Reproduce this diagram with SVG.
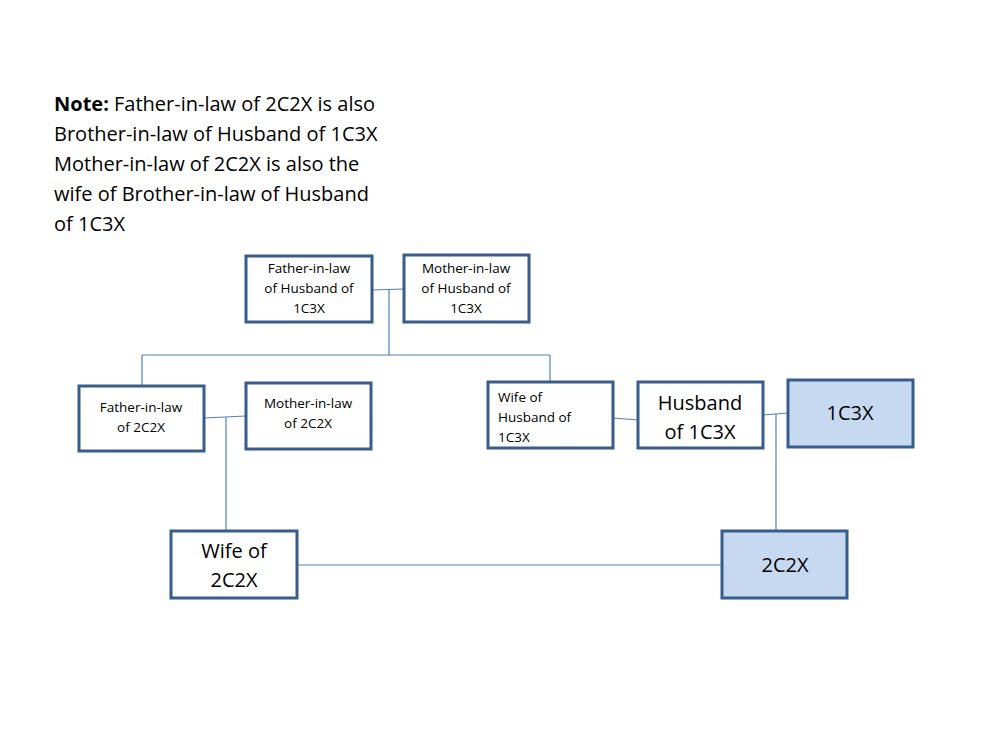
<svg xmlns="http://www.w3.org/2000/svg" width="992" height="741" viewBox="0 0 992 741">
<style>
.b{fill:#fff;stroke:#385d8a;stroke-width:3}
.h{fill:#c6d9f1;stroke:#385d8a;stroke-width:3}
.t{font-family:"Open Sans","Liberation Sans",sans-serif;fill:#000;text-anchor:middle}
.l{text-anchor:start}
.s{font-size:13.5px}.m{font-size:20px}
.n{font-family:"Open Sans","Liberation Sans",sans-serif;font-size:20px;fill:#000}
#c line{stroke:#4f81bd;stroke-width:1.2}
</style>
<rect width="992" height="741" fill="#fff"/>
<text class="n" x="54" y="111"><tspan font-weight="bold">Note:</tspan> Father-in-law of 2C2X is also</text>
<text class="n" x="54" y="141">Brother-in-law of Husband of 1C3X</text>
<text class="n" x="54" y="171">Mother-in-law of 2C2X is also the</text>
<text class="n" x="54" y="201">wife of Brother-in-law of Husband</text>
<text class="n" x="54" y="231">of 1C3X</text>
<g id="c">
<line x1="372" y1="290" x2="404" y2="289"/>
<line x1="389" y1="290" x2="389" y2="355"/>
<line x1="142" y1="355" x2="550" y2="355"/>
<line x1="142" y1="355" x2="142" y2="386"/>
<line x1="550" y1="355" x2="550" y2="382"/>
<line x1="204" y1="418" x2="246" y2="416"/>
<line x1="226" y1="417" x2="226" y2="531"/>
<line x1="613" y1="418" x2="638" y2="420"/>
<line x1="763" y1="415" x2="788" y2="413"/>
<line x1="776" y1="414" x2="776" y2="531"/>
<line x1="297" y1="565" x2="722" y2="565"/>
</g>
<g id="filh"><rect class="b" x="246" y="256" width="126" height="66"/><text class="t s" x="309" y="273">Father-in-law</text><text class="t s" x="309" y="293">of Husband of</text><text class="t s" x="309" y="313">1C3X</text></g>
<g id="milh"><rect class="b" x="404" y="255" width="125" height="67"/><text class="t s" x="466" y="273">Mother-in-law</text><text class="t s" x="466" y="293">of Husband of</text><text class="t s" x="466" y="313">1C3X</text></g>
<g id="fil2"><rect class="b" x="79" y="386" width="125" height="65"/><text class="t s" x="141" y="412">Father-in-law</text><text class="t s" x="141" y="432">of 2C2X</text></g>
<g id="mil2"><rect class="b" x="246" y="383" width="125" height="66"/><text class="t s" x="308" y="408">Mother-in-law</text><text class="t s" x="308" y="428">of 2C2X</text></g>
<g id="wh"><rect class="b" x="488" y="382" width="125" height="66"/><text class="t s l" x="498" y="402">Wife of</text><text class="t s l" x="498" y="422">Husband of</text><text class="t s l" x="498" y="442">1C3X</text></g>
<g id="hus"><rect class="b" x="638" y="382" width="125" height="66"/><text class="t m" x="700" y="410">Husband</text><text class="t m" x="700" y="439">of 1C3X</text></g>
<g id="x1"><rect class="h" x="788" y="380" width="125" height="67"/><text class="t m" x="850" y="420">1C3X</text></g>
<g id="w2"><rect class="b" x="171" y="531" width="126" height="67"/><text class="t m" x="234" y="558">Wife of</text><text class="t m" x="234" y="587">2C2X</text></g>
<g id="x2"><rect class="h" x="722" y="531" width="125" height="67"/><text class="t m" x="785" y="572">2C2X</text></g>
</svg>
